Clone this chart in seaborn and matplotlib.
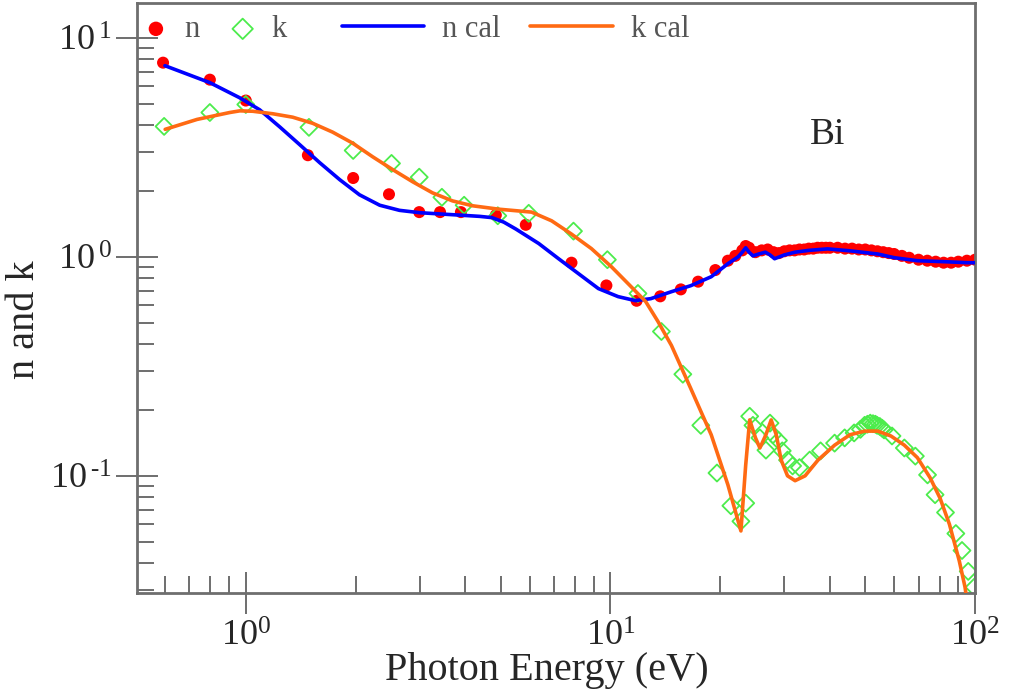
import numpy as np
import pandas as pd
import matplotlib
matplotlib.use("Agg")
import matplotlib.pyplot as plt
import seaborn as sns
from matplotlib.ticker import LogLocator, NullFormatter

# measured n and k of Bi (points)
n_x = [0.593, 0.797, 1.0, 1.48, 1.97, 2.47, 2.99, 3.41, 3.89, 4.85, 5.86, 7.82, 9.75,
       11.8, 13.7, 15.6, 17.4, 19.4, 21.0, 22.0, 23.0, 23.5, 24.0, 25.0, 26.0, 27.0,
       28.0, 29.0, 30.0, 31.0, 32.0, 33.0, 34.0, 35.0, 36.0, 37.0, 38.0, 39.0, 40.0,
       42.0, 44.0, 46.0, 48.0, 50.0, 52.0, 54.0, 56.0, 58.0, 60.0, 63.0, 66.0, 70.0,
       74.0, 78.0, 82.0, 86.0, 90.0, 95.0, 100.0]
n_y = [7.7, 6.44, 5.17, 2.91, 2.29, 1.93, 1.60, 1.60, 1.60, 1.55, 1.40, 0.94, 0.74,
       0.63, 0.66, 0.71, 0.77, 0.87, 0.96, 1.01, 1.07, 1.12, 1.10, 1.05, 1.07, 1.08,
       1.05, 1.04, 1.06, 1.07, 1.07, 1.08, 1.08, 1.09, 1.09, 1.10, 1.10, 1.10, 1.10,
       1.10, 1.09, 1.09, 1.08, 1.08, 1.07, 1.06, 1.05, 1.04, 1.03, 1.01, 0.99, 0.97,
       0.96, 0.95, 0.94, 0.94, 0.95, 0.96, 0.97]

k_x = [0.597, 0.797, 1.0, 1.49, 1.97, 2.51, 2.99, 3.45, 3.97, 4.91, 5.97, 7.92, 9.81,
       11.9, 13.8, 15.8, 17.7, 19.6, 21.4, 22.8, 23.5, 24.1, 24.6, 25.7, 26.7, 27.4,
       27.9, 28.9, 29.6, 30.6, 31.6, 33.0, 35.2, 37.7, 41.2, 43.9, 46.6, 48.5, 49.8,
       50.7, 51.6, 52.5, 53.3, 53.9, 54.8, 55.6, 56.3, 59.2, 64.0, 68.6, 74.1, 77.7,
       83.0, 88.6, 92.1, 95.8, 99.5]
k_y = [3.94, 4.56, 4.96, 3.90, 3.06, 2.67, 2.31, 1.87, 1.72, 1.54, 1.58, 1.31, 0.97,
       0.68, 0.456, 0.291, 0.170, 0.103, 0.073, 0.062, 0.075, 0.187, 0.170, 0.149, 0.131,
       0.174, 0.154, 0.145, 0.130, 0.118, 0.111, 0.109, 0.118, 0.130, 0.141, 0.149,
       0.157, 0.163, 0.170, 0.172, 0.174, 0.173, 0.172, 0.170, 0.168, 0.165, 0.162,
       0.152, 0.134, 0.123, 0.101, 0.082, 0.068, 0.0545, 0.0456, 0.0366, 0.031]

# calculated curves
ncal_x = [0.60, 0.797, 0.963, 1.092, 1.239, 1.406, 1.595, 1.81, 2.05, 2.33, 2.64, 3.0,
          3.40, 3.86, 4.38, 4.73, 5.10, 5.50, 6.36, 7.21, 8.18, 9.27, 10.5, 11.7, 12.9,
          14.7, 16.6, 18.9, 21.0, 22.4, 23.0, 23.5, 24.0, 24.6, 25.5, 26.6, 27.4, 28.2,
          30.0, 32.1, 35.0, 39.4, 45.4, 54.1, 60.2, 69.5, 82.4, 95.2, 100.0]
ncal_y = [7.46, 6.24, 5.32, 4.69, 3.92, 3.25, 2.69, 2.25, 1.92, 1.72, 1.63, 1.59,
          1.57, 1.55, 1.53, 1.51, 1.44, 1.34, 1.15, 0.98, 0.837, 0.716, 0.658, 0.631,
          0.644, 0.693, 0.738, 0.811, 0.93, 1.0, 1.05, 1.10, 1.05, 1.01, 1.03, 1.05,
          1.02, 0.98, 1.02, 1.05, 1.07, 1.087, 1.065, 1.03, 0.99, 0.96, 0.95, 0.94, 0.94]

kcal_x = [0.601, 0.735, 0.904, 0.963, 1.045, 1.186, 1.345, 1.526, 1.73, 1.96, 2.23,
          2.53, 2.87, 3.25, 3.69, 4.19, 4.94, 6.08, 6.90, 7.82, 8.87, 10.07, 11.4, 12.5,
          13.5, 14.7, 16.6, 18.9, 21.0, 22.8, 23.5, 24.1, 25.0, 25.7, 26.7, 27.6, 28.5,
          29.4, 30.6, 32.1, 34.2, 37.1, 41.2, 45.4, 49.8, 54.1, 58.8, 64.0, 69.5, 75.3,
          80.2, 85.1, 90.5, 93.9, 95.6]
kcal_y = [3.82, 4.24, 4.56, 4.64, 4.62, 4.50, 4.34, 4.07, 3.71, 3.31, 2.86,
          2.50, 2.20, 1.96, 1.80, 1.71, 1.65, 1.60, 1.46, 1.27, 1.09, 0.90, 0.73, 0.624,
          0.507, 0.394, 0.251, 0.154, 0.091, 0.056, 0.112, 0.18, 0.149, 0.134, 0.154,
          0.18, 0.154, 0.118, 0.10, 0.095, 0.10, 0.118, 0.138, 0.154, 0.16, 0.16, 0.152,
          0.138, 0.121, 0.098, 0.079, 0.06, 0.041, 0.031, 0.025]

x_ticks = [1, 10, 100]
x_ticklabels = ["10$^{0}$", "10$^{1}$", "10$^{2}$"]
y_ticks = [0.1, 1, 10]
y_ticklabels = ["10$^{\\,\\text{-}1}$", "10$^{\\,0}$", "10$^{\\,1}$"]

sns.set_style("ticks")
plt.rcParams["font.family"] = ["Liberation Serif", "DejaVu Serif"]
plt.rcParams["mathtext.fontset"] = "custom"
plt.rcParams["mathtext.rm"] = "Liberation Serif"
plt.rcParams["mathtext.default"] = "regular"

fig = plt.figure(figsize=(10.2, 7), dpi=100)
ax = fig.add_axes([0.1343, 0.153, 0.8216, 0.843])

sns.scatterplot(x=n_x, y=n_y, ax=ax, color="#ff0000", marker="o", s=75,
                edgecolor="none", label="n", zorder=2)
sns.scatterplot(x=k_x, y=k_y, ax=ax, marker="D", s=75, facecolor="none",
                edgecolor="#4cec4c", linewidth=1.3, label="k", zorder=2)
sns.lineplot(x=ncal_x, y=ncal_y, ax=ax, color="#0000ff", lw=2.6, label="n cal", zorder=3)
sns.lineplot(x=kcal_x, y=kcal_y, ax=ax, color="#ff6a13", lw=2.6, label="k cal", zorder=3)

ax.set_xscale("log")
ax.set_yscale("log")
ax.set_xlim(0.503, 100)
ax.set_ylim(0.0292, 14.45)

ax.set_xticks(x_ticks)
ax.set_xticklabels(x_ticklabels)
ax.set_yticks(y_ticks)
ax.set_yticklabels(y_ticklabels)
ax.xaxis.set_minor_locator(LogLocator(base=10, subs=np.arange(2, 10)))
ax.yaxis.set_minor_locator(LogLocator(base=10, subs=np.arange(2, 10)))
ax.xaxis.set_minor_formatter(NullFormatter())
ax.yaxis.set_minor_formatter(NullFormatter())

ax.tick_params(axis="x", which="major", direction="inout", length=30, width=1.4,
               color="#6e6e6e", labelsize=26, pad=5)
ax.tick_params(axis="y", which="major", direction="inout", length=30, width=1.4,
               color="#6e6e6e", labelsize=26, pad=3)
ax.tick_params(which="minor", direction="in", length=12, width=1.4, color="#6e6e6e")

for sp in ax.spines.values():
    sp.set_color("#6e6e6e")
    sp.set_linewidth(2)

ax.set_xlabel("Photon Energy (eV)", fontsize=29)
ax.set_ylabel("n and k", fontsize=29)
ax.xaxis.set_label_coords(0.489, -0.1)
ax.yaxis.set_label_coords(-0.112, 0.463)

ax.text(39.4, 3.6, "Bi", fontsize=27, ha="center", va="center")

handles, labels = ax.get_legend_handles_labels()
hmap = dict(zip(labels, handles))
leg1 = ax.legend([hmap["n"], hmap["k"]], ["n", "k"], loc="center left",
                 bbox_to_anchor=(0.008, 0.955), ncol=2, frameon=False, fontsize=22,
                 borderpad=0, borderaxespad=0, handlelength=0.8, handletextpad=0.54,
                 columnspacing=1.0, labelcolor="#555555", markerscale=1.2)
ax.add_artist(leg1)
ax.legend([hmap["n cal"], hmap["k cal"]], ["n cal", "k cal"], loc="center left",
          bbox_to_anchor=(0.2446, 0.955), ncol=2, frameon=False, fontsize=22,
          borderpad=0, borderaxespad=0, handlelength=2.7, handletextpad=0.59,
          columnspacing=0.95, labelcolor="#555555")

fig.savefig("out.png", dpi=100)
